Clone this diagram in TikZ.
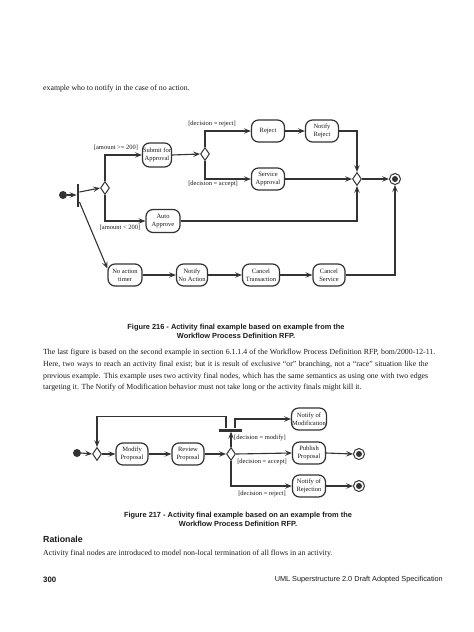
\documentclass[tikz,border=0pt]{standalone}
\usepackage{fontspec}
\setmainfont{Liberation Serif}
\newfontfamily\capsans{Liberation Sans}
\usetikzlibrary{shapes.geometric,arrows.meta}
\definecolor{linec}{HTML}{333333}
\definecolor{textc}{HTML}{1A1A1A}
\newcommand\dgfont{\fontsize{6.5}{8}\selectfont}
\newcommand\bdfont{\fontsize{7.8}{9}\selectfont}
\newcommand\cpfont{\capsans\bfseries\fontsize{7.4}{9}\selectfont}
\tikzset{
 act/.style={draw=linec, line width=1.2pt, rounded corners=7pt, minimum width=33pt, minimum height=22pt, inner sep=0.5pt, align=center, font=\dgfont, fill=white, text=textc},
 dec/.style={diamond, draw=linec, line width=1pt, fill=white, minimum width=9pt, minimum height=13pt, inner sep=0pt},
 initn/.style={circle, fill=linec, minimum size=8pt, inner sep=0pt},
 finn/.style={circle, draw=linec, line width=1pt, fill=white, minimum size=11pt, inner sep=0pt, path picture={\fill[linec] (path picture bounding box.center) circle (3pt);}},
 barn/.style={fill=linec, inner sep=0pt},
 flow/.style={draw=linec, line width=1.1pt, -{Stealth[length=7pt,width=5.5pt,inset=3pt]}},
 lbl/.style={font=\dgfont, inner sep=0pt, text=textc},
 body/.style={font=\bdfont, inner sep=0pt, anchor=west, text=textc},
 figcap/.style={font=\cpfont, inner sep=0pt, align=center, text=textc}
}
\begin{document}
\begin{tikzpicture}[x=1pt,y=-1pt]
\fill[white] (0,0) rectangle (474,632);
\useasboundingbox (0,0) rectangle (474,632);

\node[body] (t0) at (43,89) {example who to notify in the case of no action.};

% ---------- Figure 216 ----------
\node[initn] (i1) at (63,195) {};
\node[barn, minimum width=2.5pt, minimum height=23pt] (fk1) at (78,195) {};
\node[dec] (d1) at (105,188) {};
\node[act, minimum width=27pt, minimum height=24pt] (sub) at (157,155) {Submit for\\Approval};
\node[act, minimum width=34pt, minimum height=23pt] (auto) at (163,221) {Auto\\Approve};
\node[dec] (d2) at (205,154) {};
\node[act] (rej) at (268,131) {Reject};
\node[act] (svc) at (268,179) {Service\\Approval};
\node[act] (nrej) at (322,131) {Notify\\Reject};
\node[dec] (m1) at (357,179) {};
\node[finn] (f1) at (395,179) {};
\node[act, minimum width=34pt] (tim) at (125,275) {No action\\timer};
\node[act, minimum width=31pt] (nna) at (192,275) {Notify\\No Action};
\node[act, minimum width=37pt] (ctx) at (261,275) {Cancel\\Transaction};
\node[act, minimum width=32pt] (csv) at (329,275) {Cancel\\Service};

\draw[flow] (i1.east) -- (i1.east -| fk1.west);
\draw[flow] ([yshift=3pt]fk1.east) -- (d1.west);
\draw[flow] ([yshift=-7pt]fk1.east) -- (tim.160);
\draw[flow] (d1.north) |- (sub.west);
\draw[flow] (d1.south) |- (auto.west);
\draw[flow] (sub.east) -- (d2.west);
\draw[flow] (d2.north) |- (rej.west);
\draw[flow] (d2.south) |- (svc.west);
\draw[flow] (rej.east) -- (nrej.west);
\draw[flow] (nrej.east) -| (m1.north);
\draw[flow] (svc.east) -- (m1.west);
\draw[flow] (auto.east) -| (m1.south);
\draw[flow] (m1.east) -- (f1.west);
\draw[flow] (tim.east) -- (nna.west);
\draw[flow] (nna.east) -- (ctx.west);
\draw[flow] (ctx.east) -- (csv.west);
\draw[flow] (csv.east) -| (f1.south);

\node[lbl] (l1) at (116,148) {[amount >= 200]};
\node[lbl] (l2) at (120,228) {[amount < 200]};
\node[lbl] (l3) at (212,124) {[decision = reject]};
\node[lbl] (l4) at (213,184) {[decision = accept]};

\node[figcap] (c1) at (236,331) {Figure 216 - Activity final example based on example from the\\Workflow Process Definition RFP.};

\node[body] (p1) at (43,353) {\makebox[392pt][s]{The last figure is based on the second example in section 6.1.1.4 of the Workflow Process Definition RFP, bom/2000-12-11.}};
\node[body] (p2) at (43,365) {\makebox[385pt][s]{Here, two ways to reach an activity final exist; but it is result of exclusive “or” branching, not a “race” situation like the}};
\node[body] (p3) at (43,377) {\makebox[385pt][s]{previous example. This example uses two activity final nodes, which has the same semantics as using one with two edges}};
\node[body] (p4) at (43,388) {targeting it. The Notify of Modification behavior must not take long or the activity finals might kill it.};

% ---------- Figure 217 ----------
\node[initn] (i2) at (77,453) {};
\node[dec] (d3) at (97,454) {};
\node[act, minimum width=32pt] (mod) at (132,454) {Modify\\Proposal};
\node[act, minimum width=32pt] (rev) at (188,454) {Review\\Proposal};
\node[dec] (d4) at (231,454) {};
\node[barn, minimum width=23pt, minimum height=3pt] (bar2) at (230,430) {};
\node[act, minimum width=32pt] (nmod) at (309,419) {Notify of\\Modification};
\node[act, minimum width=33pt] (pub) at (309,453) {Publish\\Proposal};
\node[act, minimum width=33pt] (nrj) at (309,486) {Notify of\\Rejection};
\node[finn] (f2) at (359,454) {};
\node[finn] (f3) at (359,486) {};

\draw[flow] (i2.east) -- (d3.west);
\draw[flow] (d3.east) -- (mod.west);
\draw[flow] (mod.east) -- (rev.west);
\draw[flow] (rev.east) -- (d4.west);
\draw[flow] (d4.north) -- (d4.north |- bar2.south);
\draw[flow] ([xshift=-4pt]bar2.north) -- ++(0,-12) -| (d3.north);
\draw[flow] ([xshift=5pt]bar2.north) |- (nmod.west);
\draw[flow] (d4.east) -- (pub.west);
\draw[flow] (d4.south) |- (nrj.west);
\draw[flow] (pub.east) -- (f2.west);
\draw[flow] (nrj.east) -- (f3.west);

\node[lbl] (l5) at (260,438) {[decision = modify]};
\node[lbl] (l6) at (262,462) {[decision = accept]};
\node[lbl] (l7) at (262,494) {[decision = reject]};

\node[figcap] (c2) at (238,519) {Figure 217 - Activity final example based on an example from the\\Workflow Process Definition RFP.};

\node[anchor=west, inner sep=0pt, font=\capsans\bfseries\fontsize{8.8}{10}\selectfont, text=textc] (rat) at (43,539) {Rationale};
\node[body] (p5) at (43,554) {Activity final nodes are introduced to model non-local termination of all flows in an activity.};
\node[anchor=west, inner sep=0pt, font=\capsans\bfseries\fontsize{7.8}{9}\selectfont, text=textc] (pg) at (43,580) {300};
\node[anchor=east, inner sep=0pt, font=\capsans\fontsize{7.3}{9}\selectfont, text=textc] (ft) at (443,580) {UML Superstructure 2.0 Draft Adopted Specification};
\end{tikzpicture}
\end{document}
